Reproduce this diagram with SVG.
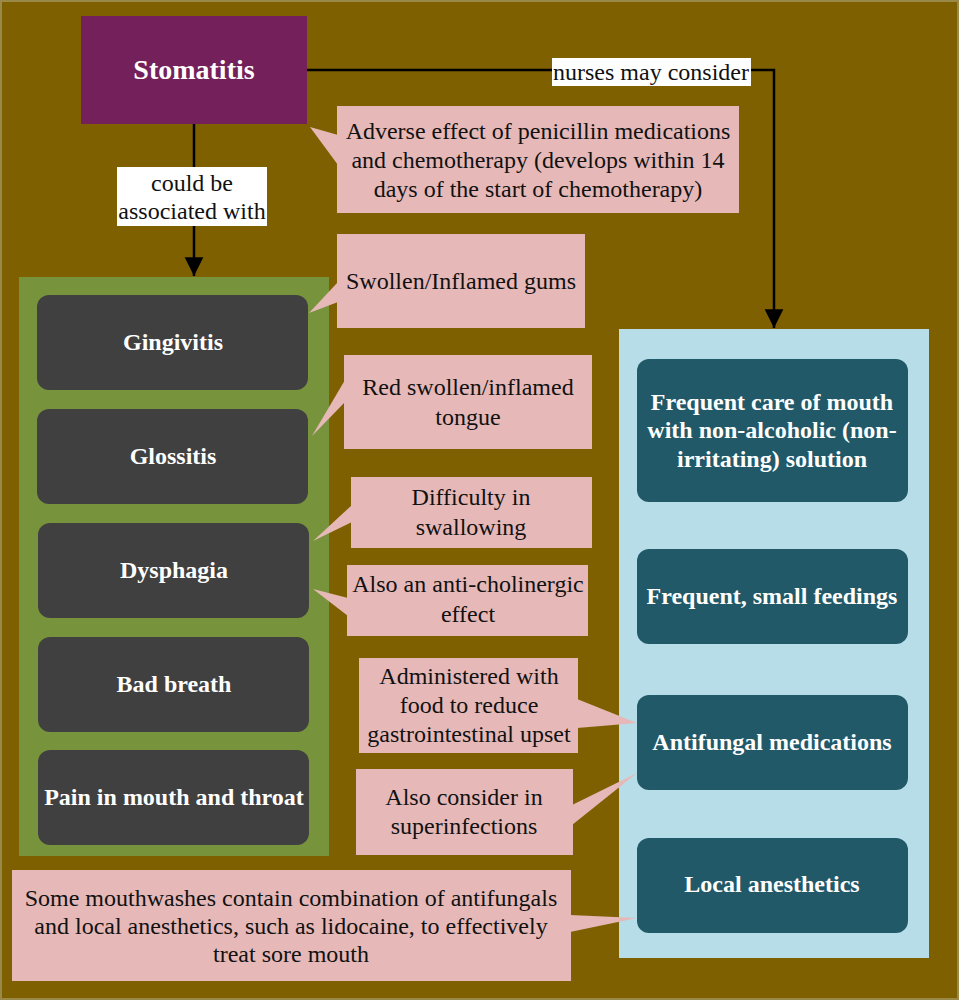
<svg xmlns="http://www.w3.org/2000/svg" width="959" height="1000" viewBox="0 0 959 1000">
<defs>
<style>
.note{fill:#e6b9b8}
.lbl{fill:#ffffff}
.t{font-family:"Liberation Serif","Times New Roman",serif;font-size:24px;fill:#111;text-anchor:middle}
.b{font-family:"Liberation Serif","Times New Roman",serif;font-size:24px;font-weight:bold;fill:#fff;text-anchor:middle}
.dark{fill:#404040}
.teal{fill:#215968}
.conn{stroke:#000;stroke-width:2.5;fill:none}
</style>
<marker id="arr" viewBox="0 0 10 10" refX="10" refY="5" markerWidth="7.5" markerHeight="8" markerUnits="strokeWidth" orient="auto">
<path d="M0,0 L10,5 L0,10 z" fill="#000"/>
</marker>
</defs>
<rect x="0" y="0" width="959" height="1000" fill="#7f6000"/>
<rect x="1" y="1" width="957" height="998" fill="none" stroke="#9a8a4a" stroke-width="2"/>

<g id="containers">
<rect x="19" y="277" width="310" height="579" fill="#77933c"/>
<rect x="619" y="329" width="310" height="629" fill="#b7dee8"/>
</g>

<g id="connectors">
<path class="conn" d="M307,70 H774 V328" marker-end="url(#arr)"/>
<path class="conn" d="M194,124 V276" marker-end="url(#arr)"/>
</g>

<g id="label-nurses">
<rect class="lbl" x="552" y="58" width="199" height="28"/>
<text class="t" x="651" y="80">nurses may consider</text>
</g>
<g id="label-assoc">
<rect class="lbl" x="117" y="167" width="150" height="59"/>
<text class="t" x="192" y="191">could be</text>
<text class="t" x="192" y="219">associated with</text>
</g>

<g id="stomatitis">
<rect x="81" y="16" width="226" height="108" fill="#74205a"/>
<text class="b" x="194" y="79" style="font-size:28px">Stomatitis</text>
</g>

<g id="note-adverse">
<polygon class="note" points="310,127 338,135 338,165"/>
<rect class="note" x="337" y="106" width="402" height="107"/>
<text class="t" x="538" y="139">Adverse effect of penicillin medications</text>
<text class="t" x="538" y="168">and chemotherapy (develops within 14</text>
<text class="t" x="538" y="197">days of the start of chemotherapy)</text>
</g>

<g id="gingivitis">
<rect class="dark" x="37" y="295" width="271" height="95" rx="12"/>
<text class="b" x="173" y="350">Gingivitis</text>
</g>
<g id="glossitis">
<rect class="dark" x="37" y="409" width="271" height="95" rx="12"/>
<text class="b" x="173" y="464">Glossitis</text>
</g>
<g id="dysphagia">
<rect class="dark" x="38" y="523" width="271" height="95" rx="12"/>
<text class="b" x="174" y="578">Dysphagia</text>
</g>
<g id="bad-breath">
<rect class="dark" x="38" y="637" width="271" height="95" rx="12"/>
<text class="b" x="174" y="692">Bad breath</text>
</g>
<g id="pain">
<rect class="dark" x="38" y="750" width="271" height="95" rx="12"/>
<text class="b" x="174" y="805">Pain in mouth and throat</text>
</g>

<g id="note-gums">
<polygon class="note" points="309,313 338,282 338,302"/>
<rect class="note" x="337" y="234" width="248" height="94"/>
<text class="t" x="461" y="289">Swollen/Inflamed gums</text>
</g>
<g id="note-tongue">
<polygon class="note" points="312,436 345,380 345,402"/>
<rect class="note" x="344" y="355" width="248" height="94"/>
<text class="t" x="468" y="395">Red swollen/inflamed</text>
<text class="t" x="468" y="425">tongue</text>
</g>
<g id="note-swallow">
<polygon class="note" points="313,541 352,505 352,522"/>
<rect class="note" x="351" y="477" width="241" height="71"/>
<text class="t" x="471" y="505">Difficulty in</text>
<text class="t" x="471" y="535">swallowing</text>
</g>
<g id="note-anticholinergic">
<polygon class="note" points="313,589 348,598 348,616"/>
<rect class="note" x="347" y="565" width="241" height="71"/>
<text class="t" x="468" y="592">Also an anti-cholinergic</text>
<text class="t" x="468" y="622">effect</text>
</g>

<g id="care-mouth">
<rect class="teal" x="637" y="359" width="271" height="143" rx="12"/>
<text class="b" x="772" y="410">Frequent care of mouth</text>
<text class="b" x="772" y="438">with non-alcoholic (non-</text>
<text class="b" x="772" y="467">irritating) solution</text>
</g>
<g id="feedings">
<rect class="teal" x="637" y="549" width="271" height="95" rx="12"/>
<text class="b" x="772" y="604">Frequent, small feedings</text>
</g>
<g id="antifungal">
<rect class="teal" x="637" y="695" width="271" height="95" rx="12"/>
<text class="b" x="772" y="750">Antifungal medications</text>
</g>
<g id="anesthetics">
<rect class="teal" x="637" y="838" width="271" height="95" rx="12"/>
<text class="b" x="772" y="892">Local anesthetics</text>
</g>

<g id="note-food">
<polygon class="note" points="637,723 577,699 577,728"/>
<rect class="note" x="359" y="658" width="219" height="95"/>
<text class="t" x="469" y="684">Administered with</text>
<text class="t" x="469" y="713">food to reduce</text>
<text class="t" x="469" y="742">gastrointestinal upset</text>
</g>
<g id="note-superinfections">
<polygon class="note" points="637,773 572,805 572,825"/>
<rect class="note" x="356" y="769" width="217" height="86"/>
<text class="t" x="464" y="805">Also consider in</text>
<text class="t" x="464" y="834">superinfections</text>
</g>
<g id="note-mouthwash">
<polygon class="note" points="637,918 570,915 570,932"/>
<rect class="note" x="12" y="870" width="559" height="111"/>
<text class="t" x="291" y="906">Some mouthwashes contain combination of antifungals</text>
<text class="t" x="291" y="934">and local anesthetics, such as lidocaine, to effectively</text>
<text class="t" x="291" y="962">treat sore mouth</text>
</g>
</svg>
